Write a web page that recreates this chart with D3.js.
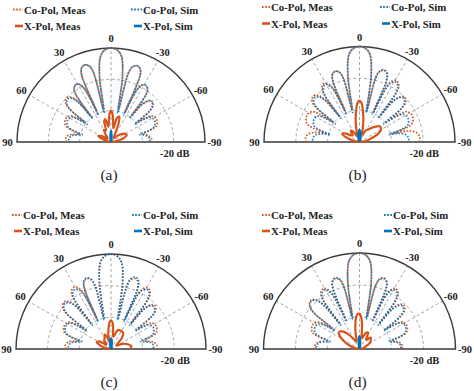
<!DOCTYPE html>
<html><head><meta charset="utf-8">
<script src="https://cdn.jsdelivr.net/npm/d3@7"></script>
<style>html,body{margin:0;padding:0;background:#fff}svg{display:block}
text{font-family:"Liberation Serif","Times New Roman",Times,serif}</style>
</head><body>
<script>
// ---------- DATA ----------
const panelLabels = ["(a)", "(b)", "(c)", "(d)"];
const angleTicks = [90, 60, 30, 0, -30, -60, -90];
const ringValues = [-40, -20];
const ringLabel = "-20 dB";
const legendNames = ["Co-Pol, Meas", "Co-Pol, Sim", "X-Pol, Meas", "X-Pol, Sim"];

// co-pol sample angles (deg, + = left side)
const coAngles = [90,86,81,77.5,75.5, 73.2,70,63,57.5,55.2,53, 51.5,49,45,42,39.5,38, 36.7,34.7,31,28.3,26.3,25,
  23.8,22,19,16,14.2,13, 10,7,4,0,-4,-7,-10, -13,-14.2,-16,-19,-22,-23.8, -25,-26.3,-28.3,-31,-34.7,-36.7,
  -38,-39.5,-42,-45,-49,-51.5, -53,-55.2,-57.5,-63,-70,-73.2, -75.5,-77.5,-81,-86,-90];

const coSimA = [-33.5,-33,-34.5,-39,-41, -35,-30.5,-29,-30.5,-35,-41, -27,-22.5,-21,-22.5,-27,-41, -23,-18.5,-17,-18.5,-23,-41, -14,-9.5,-8,-9.5,-14,-41,
  -18,-5,-1.3,0,-1.3,-5,-18, -41,-14.5,-10,-8.5,-10,-14.5, -41,-23.5,-19,-17.5,-19,-23.5, -41,-29,-24.5,-23,-24.5,-29, -41,-35,-30.5,-29,-30.5,-35, -41,-39,-36.5,-35,-35.5];
const coMeasA = [-31.5,-31,-32.5,-37,-39, -33.5,-29,-27.5,-29,-33.5,-39, -26,-21.5,-20,-21.5,-26,-39, -23,-18.5,-17,-18.5,-23,-39, -14,-9.5,-8,-9.5,-14,-39,
  -18,-5,-1.3,0,-1.3,-5,-18, -39,-14.5,-10,-8.5,-10,-14.5, -39,-23.5,-19,-17.5,-19,-23.5, -39,-29.5,-25,-23.5,-25,-29.5, -39,-33.5,-29,-27.5,-29,-33.5, -39,-37.5,-35.5,-34,-34.5];
const coSimB = [-31,-30.5,-32,-36.5,-41, -34,-29.5,-28,-29.5,-34,-41, -26.5,-22,-20.5,-22,-26.5,-41, -24,-19.5,-18,-19.5,-24,-41, -19,-14.5,-13,-14.5,-19,-41,
  -18,-5,-1.3,0,-1.3,-5,-18, -41,-18,-13.5,-12,-13.5,-18, -41,-22,-17.5,-16,-17.5,-22, -41,-27,-22.5,-21,-22.5,-27, -41,-32,-27.5,-26,-27.5,-32, -41,-35,-30.5,-29,-29.5];
const coMeasB = [-26.5,-26,-27.5,-32,-39, -29,-24.5,-23,-24.5,-29,-39, -25,-20.5,-19,-20.5,-25,-39, -23,-18.5,-17,-18.5,-23,-39, -19,-14.5,-13,-14.5,-19,-39,
  -18,-5,-1.3,0,-1.3,-5,-18, -39,-18.5,-14,-12.5,-14,-18.5, -39,-21,-16.5,-15,-16.5,-21, -39,-26,-21.5,-20,-21.5,-26, -39,-29,-24.5,-23,-24.5,-29, -39,-28,-23.5,-22,-22.5];
const coSimC = [-33.5,-33,-34.5,-39,-41, -34,-29.5,-28,-29.5,-34,-41, -25,-20.5,-19,-20.5,-25,-41, -22,-17.5,-16,-17.5,-22,-41, -18.5,-14,-12.5,-14,-18.5,-41,
  -18,-5,-1.3,0,-1.3,-5,-18, -41,-18,-13.5,-12,-13.5,-18, -41,-22,-17.5,-16,-17.5,-22, -41,-28,-23.5,-22,-23.5,-28, -41,-36,-31.5,-30,-31.5,-36, -41,-39,-34.5,-33,-33.5];
const coMeasC = [-31.5,-31,-32.5,-37,-39, -33,-28.5,-27,-28.5,-33,-39, -24,-19.5,-18,-19.5,-24,-39, -20.5,-16,-14.5,-16,-20.5,-39, -19,-14.5,-13,-14.5,-19,-39,
  -18,-5,-1.3,0,-1.3,-5,-18, -39,-19,-14.5,-13,-14.5,-19, -39,-21,-16.5,-15,-16.5,-21, -39,-27,-22.5,-21,-22.5,-27, -39,-34,-29.5,-28,-29.5,-34, -39,-37,-32.5,-31,-31.5];
const coSimD = [-33.5,-33,-34.5,-39,-41, -35,-30.5,-29,-30.5,-35,-41, -23.5,-19,-17.5,-19,-23.5,-41, -23,-18.5,-17,-18.5,-23,-41, -19,-14.5,-13,-14.5,-19,-41,
  -18,-5,-1.3,0,-1.3,-5,-18, -41,-19,-14.5,-13,-14.5,-19, -41,-23,-18.5,-17,-18.5,-23, -41,-28,-23.5,-22,-23.5,-28, -41,-34,-29.5,-28,-29.5,-34, -41,-39,-35.5,-34,-34.5];
const coMeasD = [-32.5,-32,-33.5,-37.5,-39, -33,-28.5,-27,-28.5,-33,-39, -23,-18.5,-17,-18.5,-23,-39, -22,-17.5,-16,-17.5,-22,-39, -19.5,-15,-13.5,-15,-19.5,-39,
  -18,-5,-1.3,0,-1.3,-5,-18, -39,-19.5,-15,-13.5,-15,-19.5, -39,-22,-17.5,-16,-17.5,-22, -39,-27,-22.5,-21,-22.5,-27, -39,-33,-28.5,-27,-28.5,-33, -39,-37.5,-34.5,-33,-33.5];

// cross-pol measured
const xAngles = [90,80,72,65,58,52,46,38,30,24,18,14,10,6,3,0,-3,-6,-10,-14,-18,-22,-28,-36,-44,-52,-58,-66,-74,-82,-90];
const xMeasA = [-60,-58,-55,-51,-53,-56,-57,-55,-51,-52,-46,-45,-50,-47,-42,-40,-42,-47,-51,-44,-43,-47,-55,-57,-55,-52,-50,-49,-52,-57,-60];
const xMeasB = [-60,-57,-52,-48,-50,-53,-54,-51,-53,-56,-55,-52,-46,-40,-35.5,-34,-35.5,-40,-46,-52,-55,-55,-52,-50,-47,-44,-44,-47,-53,-57,-60];
const xMeasC = [-60,-56,-53,-50,-51,-54,-56,-53,-52,-50,-52,-55,-50,-46,-43,-42,-43,-47,-52,-51,-48,-47,-47,-47,-50,-55,-56,-52,-49,-47,-48];
const xMeasD = [-60,-57,-54,-50,-46,-43.5,-44,-48,-53,-55,-54,-50,-45,-40,-38,-38,-40,-45,-52,-53,-51,-49,-48.5,-53,-50,-51,-52,-55,-57,-58,-60];

// cross-pol simulated
const xsAngles = [90,20,12,6,3,0,-3,-6,-12,-20,-90];
const xSimA = [-60,-60,-60,-58,-55.5,-53,-55.5,-58,-60,-60,-60];
const xSimB = [-60,-60,-57,-54.5,-53.5,-52.5,-53.5,-54.5,-57,-60,-60];
const xSimC = [-60,-60,-59,-56,-54,-53.5,-54,-56,-59,-60,-60];
const xSimD = [-60,-60,-60,-57,-54,-52,-54,-57,-60,-60,-60];

const seriesByPanel = [
  [coMeasA, coSimA, xMeasA, xSimA],
  [coMeasB, coSimB, xMeasB, xSimB],
  [coMeasC, coSimC, xMeasC, xSimC],
  [coMeasD, coSimD, xMeasD, xSimD]
];

// ---------- LAYOUT ----------
const W = 474, H = 391;
const ORANGE = "#D95319", BLUE = "#0072BD";
const layout = [
  {cx:111, cy:142, R:94, ly:[9.5,26], mx:[13,131], tx:[24,143]},
  {cx:359.5, cy:142, R:95.5, ly:[7,23.5], mx:[262,380], tx:[271,391]},
  {cx:111, cy:349, R:95, ly:[215,231], mx:[12,132], tx:[23,143]},
  {cx:359.5, cy:349, R:96, ly:[215,231], mx:[262,384], tx:[271,393]}
];

const svg = d3.select("body").append("svg").attr("width", W).attr("height", H);

layout.forEach((L, i) => {
  const g = svg.append("g").attr("transform", `translate(${L.cx},${L.cy})`);
  const ang = d3.scaleLinear().domain([-90, 90]).range([Math.PI/2, -Math.PI/2]);
  const rad = d3.scaleLinear().domain([-60, 0]).range([0, L.R]).clamp(true);

  ringValues.forEach(v => {
    const p = d3.path(); const r = rad(v);
    p.moveTo(-r, 0); p.arc(0, 0, r, Math.PI, 2*Math.PI);
    g.append("path").attr("d", p.toString()).attr("fill","none")
      .attr("stroke","#9a9a9a").attr("stroke-width",0.9).attr("stroke-dasharray","3,2.5");
  });
  angleTicks.filter(a => Math.abs(a) < 90).forEach(a => {
    const t = ang(a);
    g.append("line").attr("x1",0).attr("y1",0)
      .attr("x2", L.R*Math.sin(t)).attr("y2", -L.R*Math.cos(t))
      .attr("stroke","#9a9a9a").attr("stroke-width",0.9).attr("stroke-dasharray","3,2.5");
  });
  const po = d3.path();
  po.moveTo(-L.R, 0); po.arc(0,0,L.R,Math.PI,2*Math.PI); po.closePath();
  g.append("path").attr("d", po.toString()).attr("fill","none")
    .attr("stroke","#3a3a3a").attr("stroke-width",1.4);

  angleTicks.forEach(a => {
    const t = ang(a), r = L.R + 9.5;
    g.append("text").attr("x", r*Math.sin(t)).attr("y", -r*Math.cos(t))
      .attr("text-anchor","middle").attr("dominant-baseline","central")
      .attr("font-weight","bold").attr("font-size",10.5)
      .attr("fill","#222").text(String(a));
  });
  g.append("text").attr("x", rad(-20)+1).attr("y", 11).attr("text-anchor","middle")
    .attr("dominant-baseline","central").attr("font-weight","bold")
    .attr("font-size",10.5).attr("fill","#222").text(ringLabel);
  g.append("text").attr("x", -2).attr("y", 32.5).attr("text-anchor","middle")
    .attr("dominant-baseline","central").attr("font-size",15.5)
    .attr("fill","#222").text(panelLabels[i]);

  const line = d3.lineRadial().angle(d => ang(d[0])).radius(d => rad(d[1]))
    .curve(d3.curveCatmullRom.alpha(0.5));
  const [cm, cs, xm, xs] = seriesByPanel[i];
  const zip = (A, V) => A.map((a, k) => [a, V[k]]);

  g.append("path").attr("d", line(zip(coAngles, cm))).attr("fill","none")
    .attr("stroke", ORANGE).attr("stroke-width",1.7).attr("stroke-dasharray","1.6,1.6");
  g.append("path").attr("d", line(zip(coAngles, cs))).attr("fill","none")
    .attr("stroke", BLUE).attr("stroke-width",1.7).attr("stroke-dasharray","1.6,1.6")
    .attr("stroke-dashoffset",1.6).attr("stroke-opacity",0.9);
  g.append("path").attr("d", line(zip(xAngles, xm))).attr("fill","none")
    .attr("stroke", ORANGE).attr("stroke-width",2.2).attr("stroke-linejoin","round");
  g.append("path").attr("d", line(zip(xsAngles, xs))).attr("fill","none")
    .attr("stroke", BLUE).attr("stroke-width",2.6).attr("stroke-linejoin","round");

  const leg = svg.append("g");
  const styles = [
    {c:ORANGE, dash:"1.6,1.6", w:1.8},
    {c:BLUE, dash:"1.6,1.6", w:1.8},
    {c:ORANGE, dash:null, w:2.6},
    {c:BLUE, dash:null, w:2.6}
  ];
  legendNames.forEach((name, k) => {
    const col = k % 2, row = Math.floor(k / 2);
    const y = L.ly[row], tx = L.tx[col];
    const x0 = styles[k].dash ? L.mx[col] : tx - 9;
    const ln = leg.append("line").attr("x1", x0).attr("x2", tx - 1).attr("y1", y).attr("y2", y)
      .attr("stroke", styles[k].c).attr("stroke-width", styles[k].w);
    if (styles[k].dash) ln.attr("stroke-dasharray", styles[k].dash);
    leg.append("text").attr("x", tx).attr("y", y).attr("dominant-baseline","central")
      .attr("font-weight","bold").attr("font-size",10.8)
      .attr("fill","#222").text(name);
  });
});
</script>
</body></html>
